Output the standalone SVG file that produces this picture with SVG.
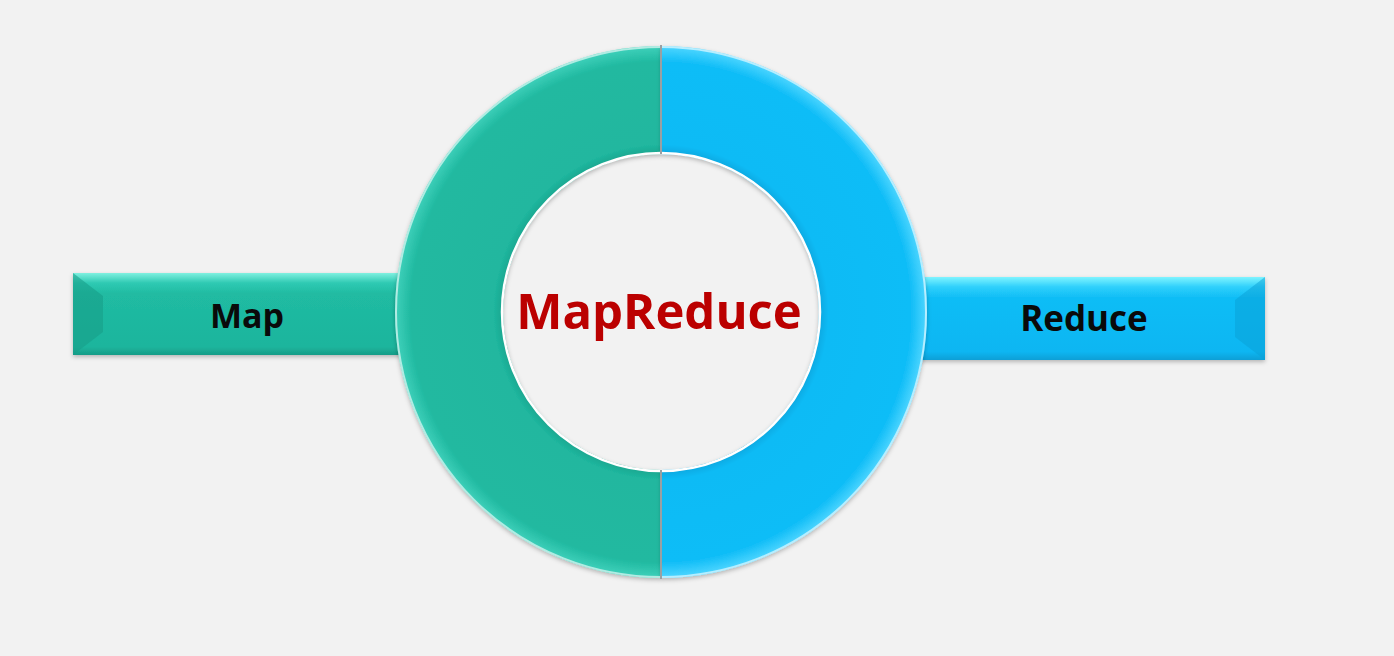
<svg xmlns="http://www.w3.org/2000/svg" width="1394" height="656" viewBox="0 0 1394 656">
  <defs>
    <linearGradient id="gMapBar" x1="0" y1="0" x2="0" y2="1">
      <stop offset="0" stop-color="#7ff0e0"/>
      <stop offset="0.12" stop-color="#2fcab3"/>
      <stop offset="0.25" stop-color="#20bba2"/>
      <stop offset="0.9" stop-color="#1db59d"/>
      <stop offset="1" stop-color="#179c87"/>
    </linearGradient>
    <linearGradient id="gRedBar" x1="0" y1="0" x2="0" y2="1">
      <stop offset="0" stop-color="#7ff4ff"/>
      <stop offset="0.12" stop-color="#2fd0fb"/>
      <stop offset="0.25" stop-color="#10bdf6"/>
      <stop offset="0.9" stop-color="#0db6f2"/>
      <stop offset="1" stop-color="#0a9fd6"/>
    </linearGradient>
    <radialGradient id="gMapRing" cx="661" cy="312" r="266" gradientUnits="userSpaceOnUse">
      <stop offset="0.59" stop-color="#1aa48d"/>
      <stop offset="0.63" stop-color="#20b79f"/>
      <stop offset="0.94" stop-color="#20b9a0"/>
      <stop offset="1" stop-color="#3fd1bb"/>
    </radialGradient>
    <radialGradient id="gRedRing" cx="661" cy="312" r="266" gradientUnits="userSpaceOnUse">
      <stop offset="0.59" stop-color="#0aa5dd"/>
      <stop offset="0.63" stop-color="#0fbbf5"/>
      <stop offset="0.94" stop-color="#10bdf7"/>
      <stop offset="1" stop-color="#4fd6ff"/>
    </radialGradient>
    <filter id="shadow" x="-10%" y="-10%" width="120%" height="130%">
      <feDropShadow dx="0" dy="2" stdDeviation="2" flood-color="#000" flood-opacity="0.25"/>
    </filter>
  </defs>
  <style>
    .lbl { font-family: "Open Sans", "Liberation Sans", sans-serif; font-weight: bold; fill: #0a0a0a; text-anchor: middle; }
    .title { font-family: "Open Sans", "Liberation Sans", sans-serif; font-weight: bold; fill: #bb0000; text-anchor: middle; }
    .divider { stroke: #9aa0a3; stroke-width: 2; }
    .edge { fill: none; stroke: #ffffff; stroke-opacity: 0.6; stroke-width: 2; }
  </style>
  <rect width="1394" height="656" fill="#f2f2f2"/>

  <g id="map-bar">
    <rect x="73" y="273" width="330" height="82" fill="url(#gMapBar)" filter="url(#shadow)"/>
    <polygon points="73,273 103,296 103,332 73,355" fill="#179f89" opacity="0.6"/>
    <text class="lbl" x="247" y="328" font-size="34">Map</text>
  </g>

  <g id="reduce-bar">
    <rect x="918" y="277" width="347" height="83" fill="url(#gRedBar)" filter="url(#shadow)"/>
    <polygon points="1265,277 1235,300 1235,337 1265,360" fill="#0a9fd6" opacity="0.5"/>
    <text class="lbl" x="1084" y="331" font-size="35">Reduce</text>
  </g>

  <g id="ring">
    <path d="M 661 46 A 266 266 0 0 0 661 578 L 661 470 A 158 158 0 0 1 661 154 Z" fill="url(#gMapRing)" filter="url(#shadow)"/>
    <path d="M 661 46 A 266 266 0 0 1 661 578 L 661 470 A 158 158 0 0 0 661 154 Z" fill="url(#gRedRing)" filter="url(#shadow)"/>
    <circle cx="661" cy="312" r="265" class="edge"/>
    <circle cx="661" cy="312" r="159" fill="none" stroke="#ffffff" stroke-width="2.5"/>
    <line x1="661" y1="45" x2="661" y2="154" class="divider"/>
    <line x1="661" y1="470" x2="661" y2="579" class="divider"/>
  </g>

  <g id="title">
    <text class="title" x="659" y="329" font-size="49">MapReduce</text>
  </g>
</svg>
